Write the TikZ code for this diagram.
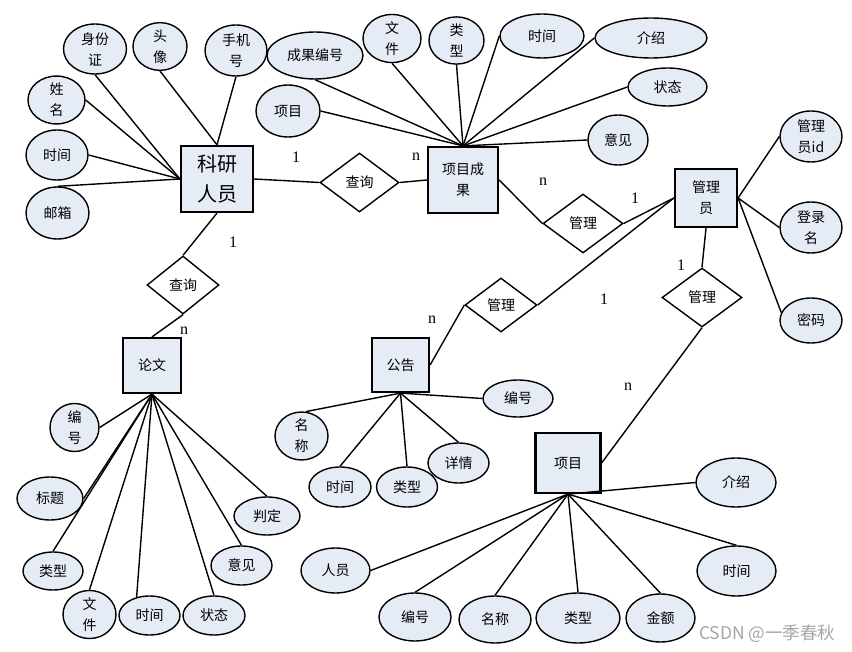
\documentclass[tikz,border=0pt]{standalone}
\usepackage{fontspec}
\setmainfont{Liberation Serif}
\newfontfamily\cjk{Noto Sans CJK SC}
\usetikzlibrary{shapes.geometric}
\definecolor{attrfill}{RGB}{230,236,246}
\begin{document}
\begin{tikzpicture}[x=1pt,y=-1pt,
 every node/.style={font=\cjk\fontsize{14}{21}\selectfont, align=center, inner sep=0pt},
 attr/.style 2 args={ellipse, draw, fill=attrfill, line width=1.4pt, minimum width=#1pt, minimum height=#2pt},
 ent/.style 2 args={rectangle, draw, fill=attrfill, line width=2.2pt, minimum width=#1pt, minimum height=#2pt},
 rel/.style 2 args={diamond, draw, fill=white, line width=1.4pt, minimum width=#1pt, minimum height=#2pt},
 link/.style={line width=1.4pt},
 card/.style={font=\fontsize{16}{16}\selectfont}]
\fill[white] (0,0) rectangle (852,652);
\useasboundingbox (0,0) rectangle (852,652);

% entities
\node[ent={72}{66}, font=\cjk\fontsize{20}{30}\selectfont] (ky) at (217,179) {科研\\人员};
\node[ent={70}{66}] (xc) at (463,180) {项目成\\果};
\node[ent={62}{58}] (gly) at (706,198) {管理\\员};
\node[ent={58}{55}] (lw) at (152,365.5) {论文};
\node[ent={57}{54}] (gg) at (400.5,365) {公告};
\node[ent={65}{60}] (xm) at (568,463) {项目};

% relationships
\node[rel={79}{59}] (cx1) at (359.5,182.5) {查询};
\node[rel={72}{58}] (cx2) at (183,285) {查询};
\node[rel={80}{59}] (gl1) at (583,223.5) {管理};
\node[rel={72}{54}] (gl2) at (501,305) {管理};
\node[rel={80}{59}] (gl3) at (702,297.5) {管理};

% attributes of 科研人员
\node[attr={63}{50}] (sfz) at (95,49) {身份\\证};
\node[attr={54}{45}] (tx) at (160,46.5) {头\\像};
\node[attr={62}{51}] (sjh) at (236,50.5) {手机\\号};
\node[attr={57}{46}] (xmz) at (56.5,100) {姓\\名};
\node[attr={62}{50}] (sj1) at (57,155) {时间};
\node[attr={63}{52}] (yx) at (57.5,213) {邮箱};

% attributes of 项目成果
\node[attr={96}{47}] (cgbh) at (315,55.5) {成果编号};
\node[attr={58}{47}] (wj) at (392,38.5) {文\\件};
\node[attr={55}{45}] (lx) at (456.5,40.5) {类\\型};
\node[attr={64}{52}] (xma) at (288,111) {项目};
\node[attr={84}{44}] (sja) at (542,36) {时间};
\node[attr={112}{40}] (js) at (651,38) {介绍};
\node[attr={79}{38}] (zt) at (667.5,87) {状态};
\node[attr={60}{50}] (yj) at (618,140) {意见};

% attributes of 管理员
\node[attr={62}{51}] (glyid) at (811,136.5) {管理\\员id};
\node[attr={62}{51}] (dlm) at (811,227.5) {登录\\名};
\node[attr={62}{45}] (mm) at (811,320.5) {密码};

% attributes of 论文
\node[attr={49}{35}] (bh1) at (74.5,427.5) {编\\号};
\node[attr={66}{43}] (bt) at (50,498.5) {标题};
\node[attr={60}{38}] (lx1) at (53,571) {类型};
\node[attr={53}{35}] (wj1) at (89.5,614.5) {文\\件};
\node[attr={61}{39}] (sj2) at (149.5,615.5) {时间};
\node[attr={62}{39}] (zt1) at (214,615.5) {状态};
\node[attr={61}{39}] (yj1) at (241.5,565.5) {意见};
\node[attr={66}{38}] (pd) at (267,516) {判定};

% attributes of 公告
\node[attr={70}{37}] (bh2) at (518,398.5) {编号};
\node[attr={53}{36}] (mc) at (301.5,436) {名\\称};
\node[attr={62}{40}] (sj3) at (340,487) {时间};
\node[attr={61}{40}] (lx2) at (407,487) {类型};
\node[attr={61}{40}] (xq) at (458.5,463) {详情};

% attributes of 项目
\node[attr={80}{49}] (js2) at (736,482.5) {介绍};
\node[attr={79}{50}] (sj4) at (736.5,571) {时间};
\node[attr={69}{45}] (ry) at (335.5,570.5) {人员};
\node[attr={72}{48}] (bh3) at (415,617) {编号};
\node[attr={72}{47}] (mc2) at (495,619.5) {名称};
\node[attr={84}{50}] (lx3) at (578,618) {类型};
\node[attr={69}{48}] (jz) at (660.5,618) {金额};

% relationship links
\draw[link] (ky.east) -- (cx1.west);
\draw[link] (cx1.east) -- (xc.west);
\draw[link] (ky.south) -- (cx2.north);
\draw[link] (cx2.south) -- (lw.north);
\draw[link] (xc.east) -- (gl1.west);
\draw[link] (gl1.east) -- (gly.west);
\draw[link] (gly.west) -- (gl2.east);
\draw[link] (gl2.west) -- (gg.east);
\draw[link] (gly.south) -- (gl3.north);
\draw[link] (gl3.south) -- (xm.east);

% attribute links
\draw[link] (sfz.south) -- (ky.west);
\draw[link] (tx.south) -- (ky.north);
\draw[link] (sjh.south) -- (ky.north);
\draw[link] (xmz.east) -- (ky.west);
\draw[link] (sj1.east) -- (ky.west);
\draw[link] (yx.north) -- (ky.west);

\draw[link] (cgbh.south) -- (xc.north);
\draw[link] (wj.south) -- (xc.north);
\draw[link] (lx.south) -- (xc.north);
\draw[link] (xma.east) -- (xc.north);
\draw[link] (sja.west) -- (xc.north);
\draw[link] (js.west) -- (xc.north);
\draw[link] (zt.west) -- (xc.north);
\draw[link] (yj.west) -- (xc.north);

\draw[link] (glyid.west) -- (gly.east);
\draw[link] (dlm.west) -- (gly.east);
\draw[link] (mm.165) -- (gly.east);

\draw[link] (bh1.east) -- (lw.south);
\draw[link] (bt.east) -- (lw.south);
\draw[link] (lx1.north) -- (lw.south);
\draw[link] (wj1.north) -- (lw.south);
\draw[link] (sj2.125) -- (lw.south);
\draw[link] (zt1.north) -- (lw.south);
\draw[link] (yj1.north) -- (lw.south);
\draw[link] (pd.north) -- (lw.south);

\draw[link] (bh2.west) -- (gg.south);
\draw[link] (mc.80) -- (gg.south);
\draw[link] (sj3.north) -- (gg.south);
\draw[link] (lx2.north) -- (gg.south);
\draw[link] (xq.north) -- (gg.south);

\draw[link] (js2.west) -- (xm.south);
\draw[link] (sj4.north) -- (xm.south);
\draw[link] (ry.east) -- (xm.south);
\draw[link] (bh3.north) -- (xm.south);
\draw[link] (mc2.north) -- (xm.south);
\draw[link] (lx3.north) -- (xm.south);
\draw[link] (jz.north) -- (xm.south);

% cardinalities
\node[card] (c1) at (296,157) {1};
\node[card] (c2) at (416,157) {n};
\node[card] (c3) at (233,242) {1};
\node[card] (c4) at (184,331) {n};
\node[card] (c5) at (543,182) {n};
\node[card] (c6) at (635,198) {1};
\node[card] (c7) at (432,320) {n};
\node[card] (c8) at (604,299) {1};
\node[card] (c9) at (681,265) {1};
\node[card] (c10) at (628,387) {n};

% watermark
\node[font=\cjk\fontsize{17.5}{17.5}\selectfont, text=black!35, anchor=west] (wm) at (699,634) {CSDN @一季春秋};
\end{tikzpicture}
\end{document}
